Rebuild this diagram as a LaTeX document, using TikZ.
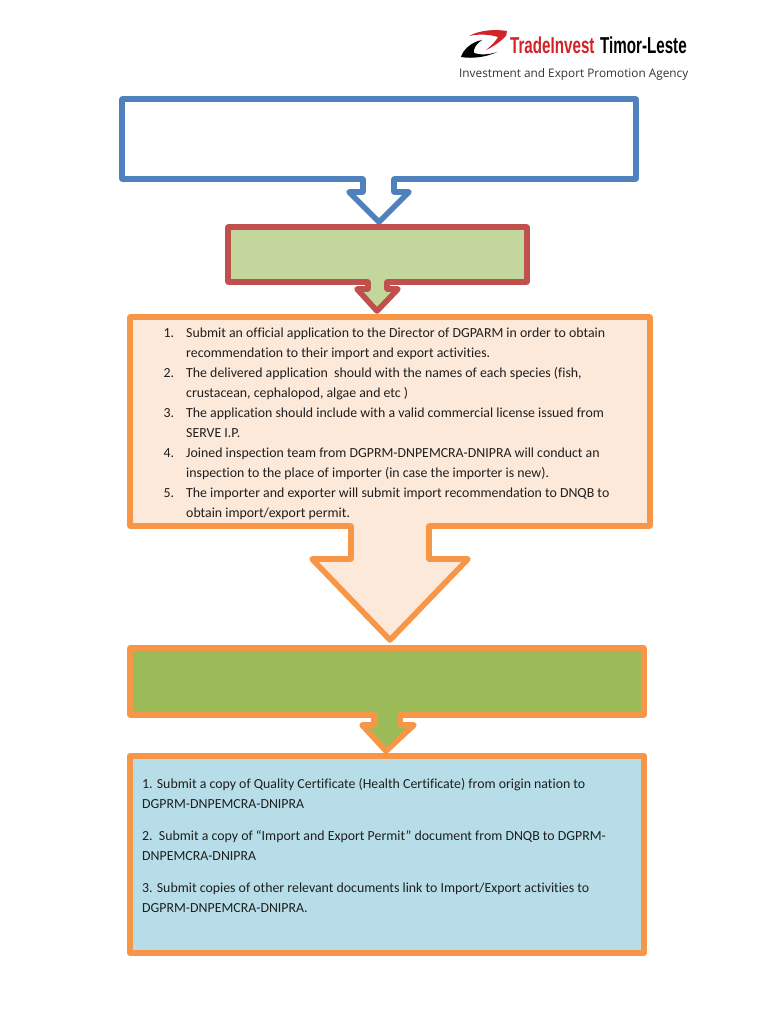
\documentclass[tikz,border=0pt]{standalone}
\usepackage{fontspec}
\setmainfont[Ligatures=NoCommon]{Carlito}
\newfontfamily\logofont{Liberation Sans}
\newfontfamily\agencyfont{Open Sans}
\definecolor{cblue}{HTML}{4F81BD}
\definecolor{cred}{HTML}{C0504D}
\definecolor{corange}{HTML}{F79646}
\definecolor{fgreenl}{HTML}{C3D69B}
\definecolor{fpeach}{HTML}{FDE9D9}
\definecolor{fgreen}{HTML}{9BBB59}
\definecolor{fblue}{HTML}{B7DEE8}
\definecolor{ctext}{HTML}{1F1F1F}
\definecolor{logored}{HTML}{D2232A}
\tikzset{
  callout/.style={line width=5.6pt,line join=round},
  bodytext/.style={inner sep=0pt,anchor=north west,align=left,text=ctext,font=\fontsize{13.85}{20}\selectfont},
  logotext/.style={inner sep=0pt,anchor=base west,font=\logofont\bfseries\fontsize{23}{24}\selectfont}
}
\newcommand{\itm}[1]{\makebox[22.5pt][l]{#1}}
\begin{document}
\begin{tikzpicture}[x=1pt,y=-1pt]
\useasboundingbox (0,0) rectangle (768,1024);
\fill[white] (0,0) rectangle (768,1024);
% logo
\fill[logored] (469,36) .. controls (480,30) and (495,29) .. (507,31) -- (506,36) .. controls (500,42) and (493,47) .. (486,50) .. controls (491,46) and (496,41) .. (498,37) .. controls (488,34) and (478,34) .. (469,36) -- cycle;
\fill[black] (461,57) .. controls (463,50) and (471,42) .. (482,40) .. controls (476,44) and (473,49) .. (474,53) .. controls (480,55) and (488,55) .. (497,52) .. controls (487,57) and (472,59) .. (461,57) -- cycle;
\node[logotext,text=logored,xscale=0.66,transform shape] (tradeinvest) at (510,54) {TradeInvest};
\node[logotext,text=black,xscale=0.66,transform shape] (timor) at (600,54) {Timor-Leste};
\node[inner sep=0pt,anchor=base west,text=black!80,font=\agencyfont\fontsize{11.8}{13}\selectfont] (agency) at (459,78) {Investment and Export Promotion Agency};
% blue
\draw[callout,cblue,fill=white] (122,99) -- (636,99) -- (636,179) -- (394,179) -- (394,192) -- (409,192) -- (379,222) -- (349,192) -- (363,192) -- (363,179) -- (122,179) -- cycle;
% red
\draw[callout,cred,fill=fgreenl] (228,227) -- (527,227) -- (527,282) -- (387,282) -- (387,289) -- (398,289) -- (377,311) -- (357,289) -- (368,289) -- (368,282) -- (228,282) -- cycle;
% peach
\draw[callout,corange,fill=fpeach] (130,317) -- (650,317) -- (650,526) -- (429,526) -- (429,559) -- (468,559) -- (390,640) -- (312,559) -- (351,559) -- (351,526) -- (130,526) -- cycle;
% green
\draw[callout,corange,fill=fgreen] (130,648) -- (644,648) -- (644,715) -- (400,715) -- (400,725) -- (414,725) -- (386,751) -- (362,725) -- (374,725) -- (374,715) -- (130,715) -- cycle;
% light blue
\draw[callout,corange,fill=fblue] (130,756) -- (644,756) -- (644,953) -- (130,953) -- cycle;
% text
\node[bodytext] (steps) at (163.5,327.5) {%
\itm{1.}Submit an official application to the Director of DGPARM in order to obtain\\
\itm{}recommendation to their import and export activities.\\
\itm{2.}The delivered application\ \ should with the names of each species (fish,\\
\itm{}crustacean, cephalopod, algae and etc )\\
\itm{3.}The application should include with a valid commercial license issued from\\
\itm{}SERVE I.P.\\
\itm{4.}Joined inspection team from DGPRM-DNPEMCRA-DNIPRA will conduct an\\
\itm{}inspection to the place of importer (in case the importer is new).\\
\itm{5.}The importer and exporter will submit import recommendation to DNQB to\\
\itm{}obtain import/export permit.};
\node[bodytext] (doc1) at (142,778) {1. Submit a copy of Quality Certificate (Health Certificate) from origin nation to\\DGPRM-DNPEMCRA-DNIPRA};
\node[bodytext] (doc2) at (142,830) {2.\ \ Submit a copy of “Import and Export Permit” document from DNQB to DGPRM-\\DNPEMCRA-DNIPRA};
\node[bodytext] (doc3) at (142,883) {3. Submit copies of other relevant documents link to Import/Export activities to\\DGPRM-DNPEMCRA-DNIPRA.};
\end{tikzpicture}
\end{document}
